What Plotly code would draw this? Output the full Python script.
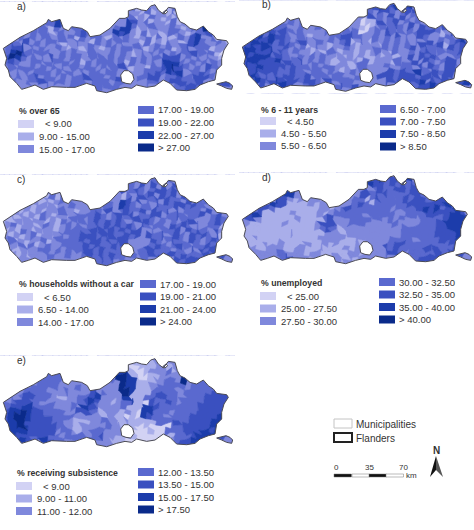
import plotly.graph_objects as go

WIDTH = 474
HEIGHT = 530

# legend class colours, lightest to darkest
class_colors = ["#d2d2f4", "#a9aeea", "#7f88dc", "#5a69cf", "#3a50c0", "#1c3cab", "#0a2a8a"]

# Flanders outline, traced off panel a) at 3x
outline_x = [10, 60, 100, 140, 145, 155, 180, 185, 190, 205, 215, 245, 262, 270, 300, 330, 345, 358, 375, 385,
             385, 410, 425, 440, 452, 465, 475, 490, 505, 525, 532, 540, 555, 570, 590, 610, 625, 640, 650, 680,
             685, 672, 665, 665, 650, 645, 625, 600, 585, 560, 530, 510, 490, 465, 440, 410, 395, 375, 350, 320,
             290, 285, 260, 225, 200, 170, 155, 130, 105, 85, 65, 50, 30, 25, 15, 20, 10]
outline_y = [145, 112, 92, 68, 58, 65, 58, 70, 85, 92, 80, 85, 95, 110, 105, 85, 70, 55, 55, 50,
             32, 25, 30, 32, 18, 14, 30, 42, 22, 25, 50, 65, 72, 85, 90, 78, 95, 105, 118, 122,
             130, 150, 175, 195, 210, 240, 245, 255, 268, 272, 270, 250, 240, 258, 262, 255, 265, 262, 268, 278,
             272, 258, 250, 262, 262, 262, 260, 268, 255, 262, 268, 250, 230, 210, 195, 175, 145]
exclave_x = [650, 668, 678, 690, 698, 695, 680, 665, 650]
exclave_y = [252, 248, 245, 250, 258, 268, 265, 258, 252]
enclave_x = [488, 498, 503, 495, 488]
enclave_y = [38, 30, 35, 42, 38]
hole_x = [362, 372, 385, 398, 402, 392, 378, 365, 362]
hole_y = [225, 212, 212, 222, 238, 252, 250, 245, 225]

# class (1-7) per map cell
classes_a = [
    "33333333333333333333333333333333344333333333333",
    "33333333333333333333333333423233423433333333333",
    "33333333333333333333333333332423324243333333333",
    "33333333343665333333333333423243232334333333333",
    "33333333344656333333333336533423324233335633333",
    "33333343432433444333333466423243334323445733333",
    "33343343432343345443333656324233234432344533333",
    "33534343443343424344323434323424232343563342333",
    "25443534344323343324343423332423243323564334323",
    "34556343433432332343234344343234342345344423333",
    "34675434443343433243334343234343434344534342143",
    "45764343435343443343434343434344355534343433223",
    "34543344343444342434444342434343566643434343343",
    "33434443434343443443434453233244567554343544233",
    "34343434443434434344344333333445465643445434433",
    "33343345344343444544434533344455344544355543445",
    "33433433543443444344443443333444445554455334554",
    "33333333343333433354344433333333333445543333333",
    "33333333333333333333333433333333333333333333333",
]
classes_b = [
    "33333333333333333333333333333333355333333333333",
    "33333333333333333333333333556356566333333333333",
    "33333333333333333333333333435543453533333333333",
    "33333333333433333333333332534353534445333333333",
    "33333333334343333333333312245345343433345334333",
    "33333444443343344333333321234345435354434543333",
    "33334554544343333434343411343543434355542354433",
    "33456465543343233344555443343435343454332443553",
    "45565564543454344343452343243434343434534345645",
    "45656654454342343323343233332434345353445254555",
    "56655564543433232343233232342324334345434344545",
    "56566645543343434332323232232332335354543334454",
    "55665556454453434322332324233324334535434553335",
    "46556555545444343443332344333433444353543554234",
    "45565555445443444343234343333354544634354555433",
    "45654545455445344434433433335554555455453553355",
    "35565456545545543543444333333554555563545545566",
    "33335353635334555454544533333333344455653333333",
    "33333333333333333333333533333333333333333333333",
]
classes_c = [
    "33333333333333333333333333333333355333333333333",
    "33333333333333333333333333435344643333333333333",
    "33333333333333333333333332435353534533333333333",
    "33333333343433333333333352454345545433333333333",
    "33333333324243333333333324345453545353335333333",
    "33333333232343333333333365353445354435343433333",
    "33333323323233433333344365434435444554544333333",
    "33332323233243323344353345445354453534443533333",
    "23323232432332344445434534534455344543445345333",
    "22232323323243434345454543454543434344533345433",
    "23423332343234343445454545435434435454343344253",
    "32324323233234444454545454553343444535454335334",
    "43232342332343445554545445453544534543545435233",
    "23423233423444445455454555333354345443543454353",
    "32324242343344444545445453333345434534344544333",
    "34223233443434344554544453334554443443535455435",
    "23323233344334334544545444434454555454443545533",
    "33333333333333334444545343333333333545553333333",
    "33333333333333333333444433333333333333333333333",
]
classes_d = [
    "33333333333333333333333333333333333333333333333",
    "33333333333333333333333333556555566333333333333",
    "33333333333333333333333333655454545433333333333",
    "33333333343553333333333333345445545555333333333",
    "33333333566333333333333355454544445544445433333",
    "33333336553233332333333442454444454554455543333",
    "33333365532222323333333454244444445555555654333",
    "33345542222222223323454444444434444556564556333",
    "33565222223222223234444443444443344445555566533",
    "35532222222322222453334444344343433344444566663",
    "33222222232222235553334443333334333344455666653",
    "22222222222222234543233333333333344444455566665",
    "22222222223222222333223333333333444444455556665",
    "22232222222222223333322333333344444344445556553",
    "23222322322223222323222323333345544444444455533",
    "22322333322332223222232333333545444445454445533",
    "33333333433332332223223323333455534444454455533",
    "33333333455333223223223233333333344455553333333",
    "33333333333333333332233333333333333333333333333",
]
classes_e = [
    "33333333333333333333333333333333333333333333333",
    "33333333333333333333333322222223333333333333333",
    "33333333333333333333333322112223322324333333333",
    "33333333344433333333333662211233342363333333333",
    "33333333344443333334333776221122333373433333433",
    "33333334444433333333334376622223344373444433434",
    "33333344444433343333333376622233444443444444444",
    "33333444433334333353433377622244444334444455444",
    "33334554443223334456333366222445544334444555554",
    "33455544333333344565332344622154454344444555555",
    "44556644444333436654333342221665444444445555554",
    "45667655544443355543233323216654443444455555555",
    "45677655554444433333223221216544434444555556665",
    "55677555554443322233443223222224444544555566765",
    "56677655555443223333343323211211114445555566665",
    "56666555555344323344433333111121144445556656653",
    "55655545554434444344533223211111122444566665533",
    "33566553645443354543332221111111223455665533333",
    "33333333333333333333333211111111333333333333333",
]

labels_a = ["< 9.00", "9.00 - 15.00", "15.00 - 17.00", "17.00 - 19.00", "19.00 - 22.00", "22.00 - 27.00", "> 27.00"]
labels_b = ["< 4.50", "4.50 - 5.50", "5.50 - 6.50", "6.50 - 7.00", "7.00 - 7.50", "7.50 - 8.50", "> 8.50"]
labels_c = ["< 6.50", "6.50 - 14.00", "14.00 - 17.00", "17.00 - 19.00", "19.00 - 21.00", "21.00 - 24.00", "> 24.00"]
labels_d = ["< 25.00", "25.00 - 27.50", "27.50 - 30.00", "30.00 - 32.50", "32.50 - 35.00", "35.00 - 40.00", "> 40.00"]
labels_e = ["< 9.00", "9.00 - 11.00", "11.00 - 12.00", "12.00 - 13.50", "13.50 - 15.00", "15.00 - 17.50", "> 17.50"]

CELL = 15
NCOLS = 47
MAP_W = 235
MAP_H = 280 / 3
FONT = "Liberation Sans"
TEXT = "#333333"

# cell corners are nudged so the mosaic doesn't read as a square grid
nudge_x = [-6, 3, 7, -2, 5, -7, 1, 6, -4, 2, -5]
nudge_y = [4, -6, 1, 7, -3, 5, -7, 2, -1, 6, -5, 3, -2]

# letter, classes, labels, title, map left/top, title x/y, left swatch x/y, right swatch x/y (pixels)
panels = [
    ("a)", classes_a, labels_a, "% over 65", 0, 1.7, 18, 111, 18, 120, 138, 106),
    ("b)", classes_b, labels_b, "% 6 - 11 years", 239, 0.3, 260, 110, 260, 117, 380, 105),
    ("c)", classes_c, labels_c, "% households without a car", 0, 174.7, 18, 284, 17, 293, 140, 280),
    ("d)", classes_d, labels_d, "% unemployed", 239, 172.7, 260, 283, 260, 292, 379, 278),
    ("e)", classes_e, labels_e, "% receiving subsistence", 0, 355.7, 16, 473, 16, 482, 138, 468),
]


def px(x):
    return x / WIDTH


def py(y):
    return 1 - y / HEIGHT


def box(x0, y0, x1, y1, fill, line="rgba(0,0,0,0)", lw=0):
    return dict(type="rect", xref="paper", yref="paper", x0=px(x0), x1=px(x1), y0=py(y0), y1=py(y1),
                fillcolor=fill, line=dict(color=line, width=lw), layer="above")


def label(x, y, text, size=9.5, bold=False, xanchor="left"):
    return dict(xref="paper", yref="paper", x=px(x), y=py(y), text=f"<b>{text}</b>" if bold else text,
                showarrow=False, xanchor=xanchor, yanchor="middle", align="left",
                font=dict(family=FONT, size=size, color=TEXT), borderpad=0)


def corner(c, r):
    return (c * CELL + nudge_x[(c * 3 + r * 5) % len(nudge_x)],
            r * CELL + nudge_y[(c * 7 + r * 2) % len(nudge_y)])


fig = go.Figure()
shapes = []
annotations = []

for n, (letter, rows, labels, title, left, top, tx, ty, lx, ly, rx, ry) in enumerate(panels, start=1):
    xa, ya = ("x", "y") if n == 1 else (f"x{n}", f"y{n}")
    # one filled trace per class, holding all cells of that class
    for k, color in enumerate(class_colors, start=1):
        xs, ys = [], []
        for r, row in enumerate(rows):
            for c, ch in enumerate(row[:NCOLS]):
                if int(ch) != k:
                    continue
                quad = [corner(c, r), corner(c + 1, r), corner(c + 1, r + 1), corner(c, r + 1), corner(c, r)]
                xs += [p[0] for p in quad] + [None]
                ys += [p[1] for p in quad] + [None]
        fig.add_trace(go.Scatter(x=xs, y=ys, mode="lines", fill="toself", fillcolor=color,
                                 line=dict(width=0.6, color=color), hoverinfo="skip", xaxis=xa, yaxis=ya))
    # white mask outside the region, outline drawn on top
    mask_x = [-30, -30, 735, 735, -30, None] + outline_x + [None] + exclave_x + [None] + enclave_x + [None] + hole_x
    mask_y = [-30, 315, 315, -30, -30, None] + outline_y + [None] + exclave_y + [None] + enclave_y + [None] + hole_y
    fig.add_trace(go.Scatter(x=mask_x, y=mask_y, mode="lines", fill="toself", fillcolor="white",
                             line=dict(width=0, color="white"), hoverinfo="skip", xaxis=xa, yaxis=ya))
    fig.add_trace(go.Scatter(x=outline_x + [None] + exclave_x + [None] + enclave_x + [None] + hole_x,
                             y=outline_y + [None] + exclave_y + [None] + enclave_y + [None] + hole_y,
                             mode="lines", line=dict(width=1, color="#4a4a55"), hoverinfo="skip", xaxis=xa, yaxis=ya))
    axis = dict(visible=False, fixedrange=True)
    fig.update_layout({
        ("xaxis" if n == 1 else f"xaxis{n}"): dict(axis, range=[0, 705], domain=[px(left), px(left + MAP_W)], anchor=ya),
        ("yaxis" if n == 1 else f"yaxis{n}"): dict(axis, range=[285, 5], domain=[py(top + MAP_H), py(top)], anchor=xa),
    })
    # panel letter and class legend
    annotations.append(label(16 if left == 0 else 261, top + 4.5, letter, size=10))
    annotations.append(label(tx, ty, title, size=8.7, bold=True))
    for i, text in enumerate(labels):
        if i < 3:
            sx, sy = lx, ly + i * 12.5
        else:
            sx, sy = rx, ry + (i - 3) * 12.5
        shapes.append(box(sx, sy, sx + 16, sy + 8, class_colors[i]))
        offset = 26 if i == 0 else 20
        annotations.append(label(sx + (offset if i < 3 else 19), sy + 4, text))

# map key
shapes.append(box(334, 419, 352, 428, "white", "#c4c4c4", 1))
shapes.append(box(334, 433, 352, 442, "white", "#222222", 2))
annotations.append(label(355, 424, "Municipalities", size=10))
annotations.append(label(355, 438, "Flanders", size=10))

# scale bar
for x0, fill in [(334, "#111111"), (352, "white"), (369, "#111111"), (386, "white")]:
    shapes.append(box(x0, 474, x0 + 17.5, 477, fill, "#777777", 0.5))
annotations.append(label(336, 467, "0", size=8, xanchor="center"))
annotations.append(label(369, 467, "35", size=8, xanchor="center"))
annotations.append(label(403, 467, "70", size=8, xanchor="center"))
annotations.append(label(405, 475, "km", size=8))

# north arrow
annotations.append(label(436.5, 450, "N", size=10, bold=True, xanchor="center"))
shapes.append(dict(type="path", xref="paper", yref="paper", fillcolor="#111111", line=dict(width=0),
                   path=f"M {px(436)} {py(456)} L {px(430)} {py(477)} L {px(436)} {py(470)} Z"))
shapes.append(dict(type="path", xref="paper", yref="paper", fillcolor="#555555", line=dict(width=0),
                   path=f"M {px(436)} {py(456)} L {px(443)} {py(477)} L {px(436)} {py(470)} Z"))

fig.update_layout(
    width=WIDTH, height=HEIGHT, margin=dict(l=0, r=0, t=0, b=0), showlegend=False,
    paper_bgcolor="white", plot_bgcolor="white", shapes=shapes, annotations=annotations,
)
# the page's default body margin would push the figure off the window
fig.write_html("out.html", config=dict(displayModeBar=False), post_script="document.body.style.margin = '0';")
